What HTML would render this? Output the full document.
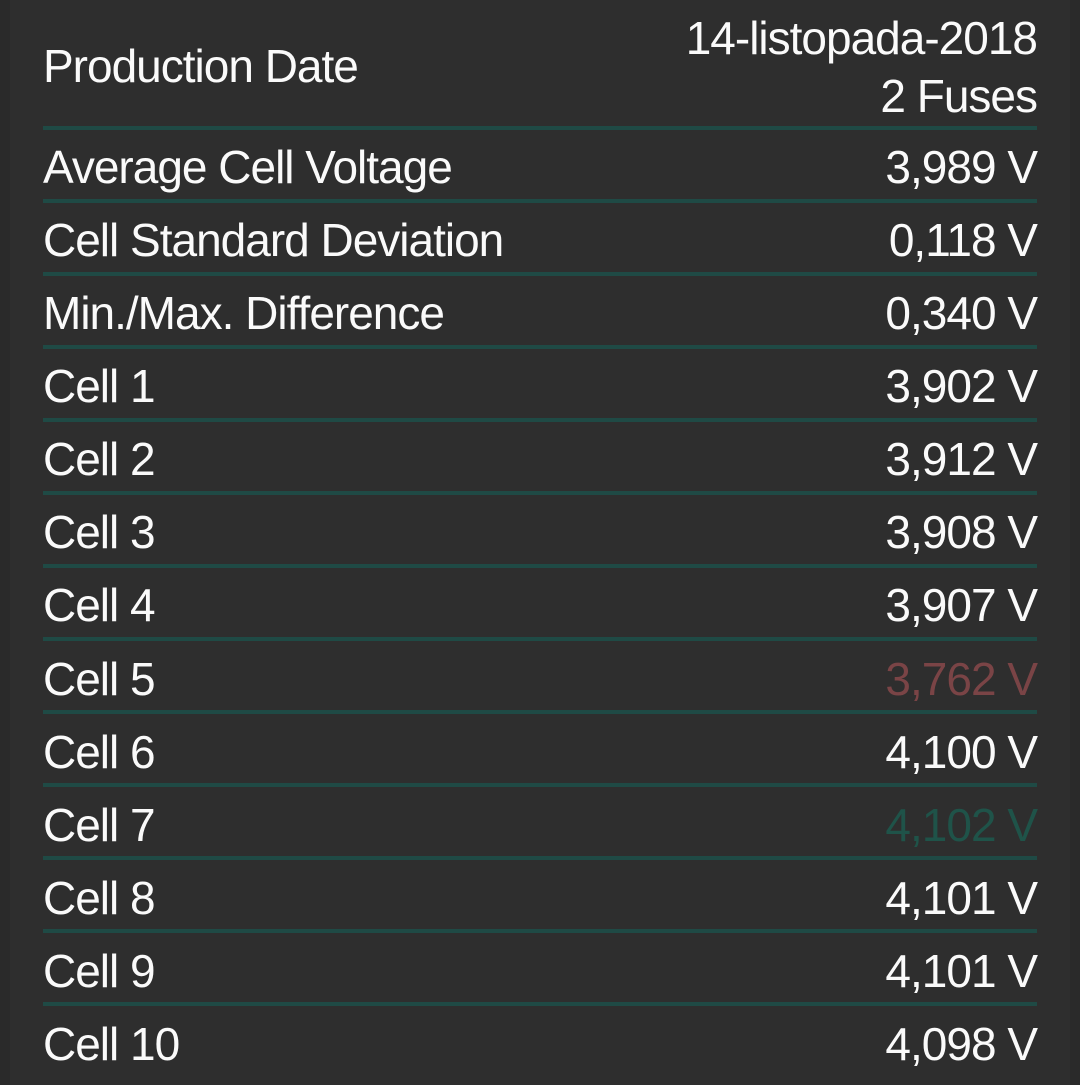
<!DOCTYPE html>
<html><head><style>
body{margin:0;width:1080px;height:1085px;background:#2e2e2e;overflow:hidden;position:relative;font-family:"Liberation Sans",sans-serif;color:#fafafa}
.edge{position:absolute;top:0;bottom:0;width:10px;background:#2a2a2a}
.sep{position:absolute;left:43px;width:994px;height:4px;background:#1f4a45}
.t{position:absolute;font-size:46px;line-height:50px;letter-spacing:-1px;white-space:nowrap}
.l{left:43px}
.r{right:43px;text-align:right}
</style></head><body>
<div class="edge" style="left:0"></div><div class="edge" style="right:0"></div>
<div class="t l" style="top:41px">Production Date</div>
<div class="t r" style="top:13px">14-listopada-2018</div>
<div class="t r" style="top:71px">2 Fuses</div>
<div class="sep" style="top:126px"></div>
<div class="t l" style="top:142px">Average Cell Voltage</div><div class="t r" style="top:142px">3,989 V</div>
<div class="sep" style="top:199px"></div>
<div class="t l" style="top:215px">Cell Standard Deviation</div><div class="t r" style="top:215px">0,118 V</div>
<div class="sep" style="top:272px"></div>
<div class="t l" style="top:288px">Min./Max. Difference</div><div class="t r" style="top:288px">0,340 V</div>
<div class="sep" style="top:345px"></div>
<div class="t l" style="top:361px">Cell 1</div><div class="t r" style="top:361px">3,902 V</div>
<div class="sep" style="top:418px"></div>
<div class="t l" style="top:434px">Cell 2</div><div class="t r" style="top:434px">3,912 V</div>
<div class="sep" style="top:491px"></div>
<div class="t l" style="top:507px">Cell 3</div><div class="t r" style="top:507px">3,908 V</div>
<div class="sep" style="top:564px"></div>
<div class="t l" style="top:580px">Cell 4</div><div class="t r" style="top:580px">3,907 V</div>
<div class="sep" style="top:637px"></div>
<div class="t l" style="top:654px">Cell 5</div><div class="t r" style="top:654px;color:#7a4446">3,762 V</div>
<div class="sep" style="top:710px"></div>
<div class="t l" style="top:727px">Cell 6</div><div class="t r" style="top:727px">4,100 V</div>
<div class="sep" style="top:783px"></div>
<div class="t l" style="top:800px">Cell 7</div><div class="t r" style="top:800px;color:#1f5349">4,102 V</div>
<div class="sep" style="top:856px"></div>
<div class="t l" style="top:873px">Cell 8</div><div class="t r" style="top:873px">4,101 V</div>
<div class="sep" style="top:929px"></div>
<div class="t l" style="top:946px">Cell 9</div><div class="t r" style="top:946px">4,101 V</div>
<div class="sep" style="top:1002px"></div>
<div class="t l" style="top:1019px">Cell 10</div><div class="t r" style="top:1019px">4,098 V</div>
</body></html>
